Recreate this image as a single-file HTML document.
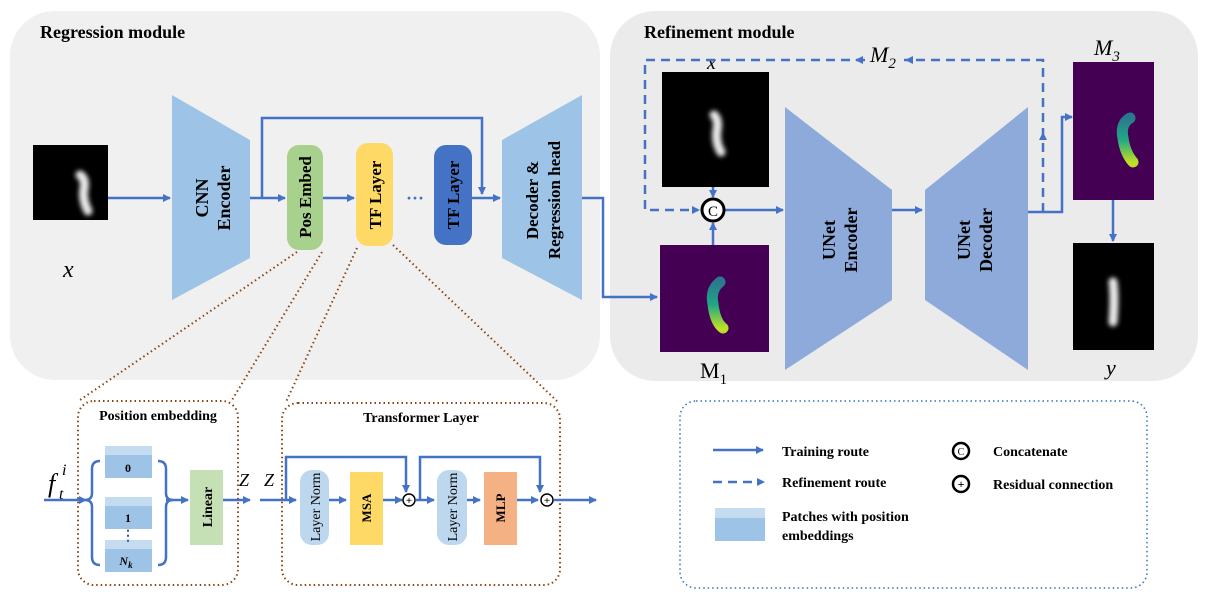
<!DOCTYPE html>
<html><head><meta charset="utf-8"><style>
html,body{margin:0;padding:0;background:#fff;}
svg{display:block;}
text{font-family:"Liberation Serif",serif;font-weight:bold;fill:#000;}
.it{font-style:italic;font-weight:normal;}
</style></head><body>
<svg width="1207" height="599" viewBox="0 0 1207 599" xmlns="http://www.w3.org/2000/svg">
<defs>
<marker id="ar" markerWidth="8" markerHeight="8" refX="7" refY="4" orient="auto" markerUnits="userSpaceOnUse"><path d="M0,0 L8,4 L0,8 z" fill="#4472c4"/></marker>
<linearGradient id="gv" x1="0" y1="0" x2="0" y2="1"><stop offset="0" stop-color="#2a788e"/><stop offset="0.5" stop-color="#22a884"/><stop offset="1" stop-color="#bddf26"/></linearGradient>
<filter id="bl" filterUnits="userSpaceOnUse" x="0" y="0" width="1207" height="599"><feGaussianBlur stdDeviation="2.5"/></filter>
</defs>
<rect x="10" y="11" width="590" height="369" rx="45" fill="#f0f0f0"/>
<rect x="610" y="11" width="588" height="370" rx="45" fill="#ebebeb"/>
<text x="40" y="38" font-size="18">Regression module</text>
<text x="644" y="38" font-size="18">Refinement module</text>

<rect x="33" y="145" width="75" height="75" fill="#000"/>
<path d="M80,175 q6,4 4,14 q-2,10 4,22" stroke="#e8e8e8" stroke-width="9" fill="none" stroke-linecap="round" filter="url(#bl)"/>
<text x="63" y="277" class="it" font-size="24">x</text>

<polygon points="172,95 250,140 250,258 172,300" fill="#9dc3e6"/>
<text transform="translate(212,198) rotate(-90)" text-anchor="middle" font-size="18"><tspan x="0" dy="-4">CNN</tspan><tspan x="0" dy="22">Encoder</tspan></text>

<rect x="287" y="145" width="36" height="105" rx="12" fill="#a9d18e"/>
<text transform="translate(311,197) rotate(-90)" text-anchor="middle" font-size="17">Pos Embed</text>
<rect x="356" y="143" width="37" height="103" rx="12" fill="#ffd966"/>
<text transform="translate(381,195) rotate(-90)" text-anchor="middle" font-size="17">TF Layer</text>
<rect x="434" y="145" width="38" height="100" rx="12" fill="#4472c4"/>
<text transform="translate(459,195) rotate(-90)" text-anchor="middle" font-size="17">TF Layer</text>
<text x="406" y="204" font-size="18" style="fill:#4472c4">···</text>

<polygon points="502,140 582,95 582,300 502,258" fill="#9dc3e6"/>
<text transform="translate(543,200) rotate(-90)" text-anchor="middle" font-size="17"><tspan x="0" dy="-5">Decoder &amp;</tspan><tspan x="0" dy="22">Regression  head</tspan></text>

<g stroke="#4472c4" stroke-width="2.5" fill="none" marker-end="url(#ar)">
<line x1="108" y1="198" x2="170" y2="198"/>
<line x1="250" y1="198" x2="285" y2="198"/>
<line x1="323" y1="198" x2="354" y2="198"/>
<line x1="472" y1="198" x2="500" y2="198"/>
<polyline points="262,198 262,118 482,118 482,194"/>
<polyline points="582,198 603,198 603,297 657,297"/>
</g>

<g stroke="#8b4513" stroke-width="2" stroke-dasharray="1.5,3" fill="none">
<line x1="297" y1="252" x2="80" y2="400"/>
<line x1="322" y1="252" x2="232" y2="400"/>
<line x1="357" y1="248" x2="286" y2="402"/>
<line x1="393" y1="245" x2="558" y2="402"/>
<rect x="78" y="401" width="160" height="184" rx="16"/>
<rect x="282" y="403" width="278" height="182" rx="16"/>
</g>

<rect x="662" y="72" width="107" height="115" fill="#000"/>
<path d="M714,115 q5,5 3,15 q-2,12 4,22" stroke="#e8e8e8" stroke-width="9" fill="none" stroke-linecap="round" filter="url(#bl)"/>
<text x="707" y="69" class="it" font-size="20">x</text>
<rect x="660" y="245" width="109" height="107" fill="#440154"/>
<path d="M720,282 q-10,8 -7,22 q2,18 10,24" stroke="url(#gv)" stroke-width="11" fill="none" stroke-linecap="round"/>
<text x="700" y="378" font-size="22" style="font-weight:normal">M<tspan font-size="15" dy="6">1</tspan></text>

<rect x="1073" y="62" width="81" height="138" fill="#440154"/>
<path d="M1130,118 q-10,6 -7,20 q2,15 10,24" stroke="url(#gv)" stroke-width="11" fill="none" stroke-linecap="round"/>
<text x="1094" y="55" class="it" font-size="22">M<tspan font-size="15" dy="6">3</tspan></text>
<rect x="1073" y="243" width="81" height="107" fill="#000"/>
<path d="M1113,282 q2,15 0,40" stroke="#e8e8e8" stroke-width="9" fill="none" stroke-linecap="round" filter="url(#bl)"/>
<text x="1106" y="375" class="it" font-size="22">y</text>

<polygon points="785,107 892,190 892,300 785,370" fill="#8eaadb"/>
<text transform="translate(840,240) rotate(-90)" text-anchor="middle" font-size="18"><tspan x="0" dy="-5">UNet</tspan><tspan x="0" dy="22">Encoder</tspan></text>
<polygon points="925,190 1028,107 1028,370 925,300" fill="#8eaadb"/>
<text transform="translate(975,240) rotate(-90)" text-anchor="middle" font-size="18"><tspan x="0" dy="-5">UNet</tspan><tspan x="0" dy="22">Decoder</tspan></text>

<g stroke="#4472c4" stroke-width="2.5" fill="none" marker-end="url(#ar)">
<line x1="713" y1="187" x2="713" y2="197"/>
<line x1="713" y1="245" x2="713" y2="223"/>
<line x1="725" y1="210" x2="783" y2="210"/>
<line x1="892" y1="210" x2="922" y2="210"/>
<polyline points="1028,212 1062,212 1062,117 1072,117"/>
<line x1="1113" y1="200" x2="1113" y2="241"/>
</g>
<g stroke="#4472c4" stroke-width="2.5" fill="none" stroke-dasharray="9,6">
<polyline points="1043,212 1043,60 645,60 645,210 698,210"/>
</g>
<g fill="#4472c4">
<path d="M700,210 l-8,-4 v8z"/>
<path d="M1043,132 l-4,8 h8z"/>
<path d="M855,60 l8,-4 v8z"/>
<path d="M905,60 l8,-4 v8z"/>
</g>
<rect x="868" y="44" width="36" height="26" fill="#ebebeb"/>
<text x="870" y="62" class="it" font-size="22">M<tspan font-size="15" dy="6">2</tspan></text>
<circle cx="713" cy="210" r="11" fill="#fff" stroke="#000" stroke-width="3"/>
<text x="713" y="216" text-anchor="middle" font-size="15" style="font-weight:normal">C</text>

<text x="158" y="420" text-anchor="middle" font-size="14">Position embedding</text>
<text x="48" y="492" class="it" font-size="26">f</text>
<text x="59" y="499" class="it" font-size="16">t</text>
<text x="62" y="475" class="it" font-size="16">i</text>
<g stroke="#4472c4" stroke-width="2.5" fill="none">
<line x1="44" y1="500" x2="86" y2="500" marker-end="url(#ar)"/>
<path d="M100,461 q-8,0 -8,8 v24 q0,7 -7,7 q7,0 7,7 v50 q0,8 8,8"/>
<path d="M158,461 q8,0 8,8 v24 q0,7 7,7 q-7,0 -7,7 v50 q0,8 -8,8"/>
<line x1="166" y1="500" x2="188" y2="500" marker-end="url(#ar)"/>
<line x1="222" y1="500" x2="250" y2="500" marker-end="url(#ar)"/>
</g>
<rect x="105" y="446" width="47" height="32" fill="#9dc3e6"/><rect x="105" y="446" width="47" height="9" fill="#c5dcf0"/>
<rect x="105" y="497" width="47" height="32" fill="#9dc3e6"/><rect x="105" y="497" width="47" height="9" fill="#c5dcf0"/>
<rect x="105" y="540" width="47" height="32" fill="#9dc3e6"/><rect x="105" y="540" width="47" height="9" fill="#c5dcf0"/>
<text x="128" y="472" text-anchor="middle" font-size="12">0</text>
<text x="128" y="522" text-anchor="middle" font-size="12">1</text>
<text x="128" y="540" text-anchor="middle" font-size="14" style="fill:#2f5597">⋮</text>
<text x="126" y="565" text-anchor="middle" font-size="12" font-style="italic">N<tspan font-size="9" dy="3">k</tspan></text>
<rect x="190" y="470" width="33" height="75" fill="#c5e0b4"/>
<text transform="translate(212,507) rotate(-90)" text-anchor="middle" font-size="14">Linear</text>
<text x="239" y="486" font-size="18" class="it">Z</text>
<text x="264" y="486" font-size="18" class="it">Z</text>

<text x="421" y="422" text-anchor="middle" font-size="14">Transformer  Layer</text>
<rect x="300" y="470" width="29" height="75" rx="12" fill="#bdd7ee"/>
<text transform="translate(320,507) rotate(-90)" text-anchor="middle" font-size="14" style="font-weight:normal">Layer Norm</text>
<rect x="350" y="472" width="33" height="73" fill="#ffd966"/>
<text transform="translate(371,508) rotate(-90)" text-anchor="middle" font-size="13">MSA</text>
<rect x="437" y="470" width="30" height="75" rx="12" fill="#bdd7ee"/>
<text transform="translate(457,507) rotate(-90)" text-anchor="middle" font-size="14" style="font-weight:normal">Layer Norm</text>
<rect x="484" y="472" width="33" height="73" fill="#f4b183"/>
<text transform="translate(505,508) rotate(-90)" text-anchor="middle" font-size="13">MLP</text>
<g stroke="#4472c4" stroke-width="2.5" fill="none">
<line x1="260" y1="500" x2="296" y2="500" marker-end="url(#ar)"/>
<polyline points="286,500 286,457 406,457 406,492" marker-end="url(#ar)"/>
<line x1="329" y1="500" x2="346" y2="500" marker-end="url(#ar)"/>
<line x1="383" y1="500" x2="402" y2="500" marker-end="url(#ar)"/>
<line x1="416" y1="500" x2="434" y2="500" marker-end="url(#ar)"/>
<polyline points="420,500 420,457 540,457 540,492" marker-end="url(#ar)"/>
<line x1="467" y1="500" x2="480" y2="500" marker-end="url(#ar)"/>
<line x1="517" y1="500" x2="538" y2="500" marker-end="url(#ar)"/>
<line x1="554" y1="500" x2="596" y2="500" marker-end="url(#ar)"/>
</g>
<circle cx="409" cy="500" r="6" fill="#fff" stroke="#000" stroke-width="1.5"/>
<text x="409" y="504" text-anchor="middle" font-size="11">+</text>
<circle cx="547" cy="500" r="6" fill="#fff" stroke="#000" stroke-width="1.5"/>
<text x="547" y="504" text-anchor="middle" font-size="11">+</text>

<rect x="680" y="401" width="467" height="187" rx="16" fill="none" stroke="#2e75b6" stroke-width="1.5" stroke-dasharray="1.5,3"/>
<g stroke="#4472c4" stroke-width="2.5" fill="none">
<line x1="713" y1="450" x2="763" y2="450" marker-end="url(#ar)"/>
<line x1="713" y1="482" x2="755" y2="482" stroke-dasharray="9,6"/>
</g>
<path d="M765,482 l-8,-4 v8z" fill="#4472c4"/>
<rect x="715" y="508" width="50" height="33" fill="#9dc3e6"/><rect x="715" y="508" width="50" height="10" fill="#c5dcf0"/>
<text x="782" y="456" font-size="14">Training route</text>
<text x="782" y="487" font-size="14">Refinement route</text>
<text x="782" y="521" font-size="14">Patches with position</text>
<text x="782" y="540" font-size="14">embeddings</text>
<circle cx="961" cy="451" r="8" fill="#fff" stroke="#000" stroke-width="2.5"/>
<text x="961" y="455" text-anchor="middle" font-size="10" style="font-weight:normal">C</text>
<circle cx="961" cy="484" r="8" fill="#fff" stroke="#000" stroke-width="2.5"/>
<text x="961" y="488" text-anchor="middle" font-size="12">+</text>
<text x="993" y="456" font-size="14">Concatenate</text>
<text x="993" y="489" font-size="14">Residual connection</text>
</svg>
</body></html>
